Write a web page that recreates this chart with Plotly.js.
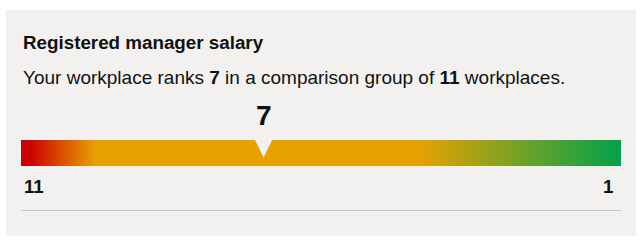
<!DOCTYPE html>
<html>
<head>
<meta charset="utf-8">
<script src="https://cdn.plot.ly/plotly-3.0.1.min.js"></script>
<style>
  html, body { margin: 0; padding: 0; background: #ffffff; }
  #chart { width: 644px; height: 244px; }
</style>
</head>
<body>
<div id="chart"></div>
<script>
// ---- data ----
var chartTitle = 'Registered manager salary';
var yourRank = 7;
var groupSize = 11;
var bestRank = 1;
var tickValues = [11, 1];
var tickLabels = ['11', '1'];

// ---- style ----
var FONT = 'Arial, "Liberation Sans", sans-serif';
var panelColor = '#f2f1ef';
var gradientStops = [
  [0.00, '#cc0000'],
  [0.015, '#cc0000'],
  [0.125, '#e8a200'],
  [0.66, '#e8a200'],
  [1.00, '#00a14b']
];

// plot area geometry (pixels)
var W = 644, H = 244;
var plotL = 21, plotR = 621, plotT = 140, plotB = 166;
function px2py(p) { return (plotB - p) / (plotB - plotT); }
function px2px(p) { return (p - plotL) / (plotR - plotL); }

var pad = 0.226;
var xLo = bestRank - pad, xHi = groupSize + pad;

var barTrace = {
  type: 'scatter',
  mode: 'none',
  x: [xHi, xLo, xLo, xHi, xHi],
  y: [0, 0, 1, 1, 0],
  fill: 'toself',
  fillgradient: { type: 'horizontal', colorscale: gradientStops },
  hoverinfo: 'skip',
  showlegend: false
};

var layout = {
  width: W, height: H,
  margin: { l: plotL, r: W - plotR, t: plotT, b: H - plotB, pad: 0 },
  paper_bgcolor: '#ffffff',
  plot_bgcolor: 'rgba(0,0,0,0)',
  showlegend: false,
  xaxis: { range: [xHi, xLo], showgrid: false, zeroline: false, showline: false,
           showticklabels: false, ticks: '', fixedrange: true },
  yaxis: { range: [0, 1], showgrid: false, zeroline: false, showline: false,
           showticklabels: false, ticks: '', fixedrange: true },
  shapes: [
    { type: 'rect', xref: 'paper', yref: 'paper', layer: 'below',
      x0: px2px(6), x1: px2px(636), y0: px2py(236), y1: px2py(10),
      fillcolor: panelColor, line: { width: 0 } },
    { type: 'line', xref: 'paper', yref: 'paper', layer: 'above',
      x0: 0, x1: 1, y0: px2py(210.5), y1: px2py(210.5),
      line: { color: '#c6c6c6', width: 1 } },
    { type: 'path', xref: 'x', yref: 'y', layer: 'above',
      xsizemode: 'pixel', ysizemode: 'pixel', xanchor: yourRank, yanchor: 1,
      path: 'M-8.5,0 L8.5,0 L0,-17.5 Z',
      fillcolor: panelColor, line: { width: 0 } }
  ],
  annotations: [
    { xref: 'paper', yref: 'paper', x: 0, y: px2py(42.5), xanchor: 'left', yanchor: 'middle',
      showarrow: false, text: '<b>' + chartTitle + '</b>',
      font: { family: FONT, size: 18.8, color: '#111111' } },
    { xref: 'paper', yref: 'paper', x: 0, y: px2py(77.5), xanchor: 'left', yanchor: 'middle',
      showarrow: false,
      text: 'Your workplace ranks <b>' + yourRank + '</b> in a comparison group of <b>' + groupSize + '</b> workplaces.',
      font: { family: FONT, size: 19, color: '#111111' } },
    { xref: 'x', yref: 'paper', x: yourRank, y: px2py(115), xanchor: 'center', yanchor: 'middle',
      showarrow: false, text: '<b>' + yourRank + '</b>',
      font: { family: FONT, size: 28, color: '#111111' } }
  ]
};

for (var i = 0; i < tickValues.length; i++) {
  layout.annotations.push({
    xref: 'x', yref: 'paper', x: tickValues[i], y: px2py(186.5),
    xanchor: 'center', yanchor: 'middle', showarrow: false,
    text: '<b>' + tickLabels[i] + '</b>',
    font: { family: FONT, size: 18.7, color: '#111111' }
  });
}

Plotly.newPlot('chart', [barTrace], layout, { displayModeBar: false, staticPlot: true });
</script>
</body>
</html>
